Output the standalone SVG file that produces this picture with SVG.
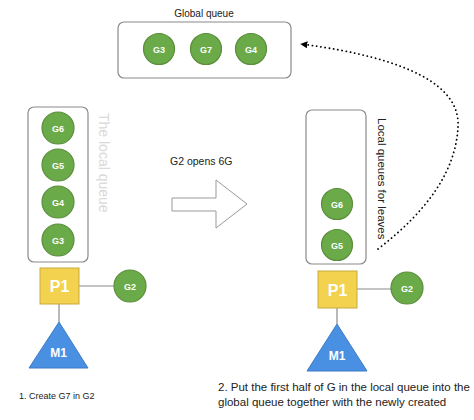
<svg xmlns="http://www.w3.org/2000/svg" width="474" height="420" viewBox="0 0 474 420">
<defs>
<style>
.g circle{fill:#6aaa48;stroke:#5a8e3b;stroke-width:1.2}
.g text{fill:#fff;font:bold 9px "Liberation Sans",Arial,sans-serif;text-anchor:middle}
.box{fill:#fff;stroke:#8a8a8a;stroke-width:1.2}
.p rect{fill:#f2d24e;stroke:#c9a93c;stroke-width:1}
.p text{fill:#fff;font:bold 16px "Liberation Sans",Arial,sans-serif;text-anchor:middle}
.m polygon{fill:#4a90e2;stroke:#3c7bc8;stroke-width:1}
.m text{fill:#fff;font:bold 12px "Liberation Sans",Arial,sans-serif;text-anchor:middle}
.t{font-family:"Liberation Sans",Arial,sans-serif;fill:#222}
.ln{stroke:#8a8a8a;stroke-width:1.2;fill:none}
</style>
<marker id="ah" viewBox="0 0 10 10" refX="9" refY="5" markerWidth="7" markerHeight="7" orient="auto" markerUnits="userSpaceOnUse">
<path d="M0,0 L10,5 L0,10 z" fill="#000"/>
</marker>
</defs>
<rect width="474" height="420" fill="#fff"/>

<g id="global-queue">
<text class="t" x="204" y="17" font-size="10" text-anchor="middle">Global queue</text>
<rect class="box" x="118" y="22" width="173" height="56" rx="6"/>
</g>
<g id="gq-G3" class="g"><circle cx="159" cy="49" r="15.5"/><text x="159" y="52.5">G3</text></g>
<g id="gq-G7" class="g"><circle cx="206" cy="49" r="15.5"/><text x="206" y="52.5">G7</text></g>
<g id="gq-G4" class="g"><circle cx="251" cy="49" r="15.5"/><text x="251" y="52.5">G4</text></g>

<g id="left-local-queue">
<rect class="box" x="28" y="107" width="60" height="155" rx="6"/>
<text x="99" y="113" font-size="14" fill="#d9d9d9" font-family="Liberation Sans,Arial,sans-serif" transform="rotate(90 99 113)">The local queue</text>
</g>
<g id="l-G6" class="g"><circle cx="58" cy="128" r="16"/><text x="58" y="131.5">G6</text></g>
<g id="l-G5" class="g"><circle cx="58" cy="165" r="16"/><text x="58" y="168.5">G5</text></g>
<g id="l-G4" class="g"><circle cx="58" cy="202" r="16"/><text x="58" y="205.5">G4</text></g>
<g id="l-G3" class="g"><circle cx="58" cy="240" r="16"/><text x="58" y="243.5">G3</text></g>

<g id="connectors">
<line class="ln" x1="79" y1="286" x2="114" y2="286"/>
<line class="ln" x1="59" y1="304" x2="59" y2="322"/>
<line class="ln" x1="357" y1="289" x2="391" y2="289"/>
<line class="ln" x1="337" y1="308" x2="337" y2="324"/>
<path d="M378,249 Q455,190 458,127 Q462,65 301,44" fill="none" stroke="#000" stroke-width="1.8" stroke-dasharray="0.1 4.2" stroke-linecap="round" marker-end="url(#ah)"/>
</g>

<g id="l-P1" class="p"><rect x="40" y="268" width="39" height="36"/><text x="59.5" y="292">P1</text></g>
<g id="l-G2" class="g"><circle cx="130" cy="286" r="16"/><text x="130" y="289.5">G2</text></g>
<g id="l-M1" class="m"><polygon points="59,322 88,368 29,368"/><text x="58.5" y="357">M1</text></g>
<g id="caption1"><text class="t" x="19" y="399" font-size="9">1. Create G7 in G2</text></g>

<g id="transition">
<text class="t" x="170" y="165" font-size="10.5">G2 opens 6G</text>
<polygon points="172,198 216,198 216,180 247,204 216,228 216,211 172,211" fill="#fff" stroke="#999" stroke-width="1"/>
</g>

<g id="right-local-queue">
<rect class="box" x="306" y="110" width="60" height="154" rx="6"/>
<text x="378" y="118" font-size="11.5" class="t" transform="rotate(90 378 118)">Local queues for leaves</text>
</g>
<g id="r-G6" class="g"><circle cx="337" cy="204" r="15.5"/><text x="337" y="207.5">G6</text></g>
<g id="r-G5" class="g"><circle cx="337" cy="245" r="15.5"/><text x="337" y="248.5">G5</text></g>

<g id="r-P1" class="p"><rect x="318" y="271" width="39" height="37"/><text x="337.5" y="295.5">P1</text></g>
<g id="r-G2" class="g"><circle cx="407" cy="288" r="16"/><text x="407" y="291.5">G2</text></g>
<g id="r-M1" class="m"><polygon points="337,324 367,371 307,371"/><text x="337" y="360">M1</text></g>
<g id="caption2">
<text class="t" x="218" y="391" font-size="11.5">2. Put the first half of G in the local queue into the</text>
<text class="t" x="218" y="406" font-size="11.5">global queue together with the newly created</text>
</g>
</svg>
